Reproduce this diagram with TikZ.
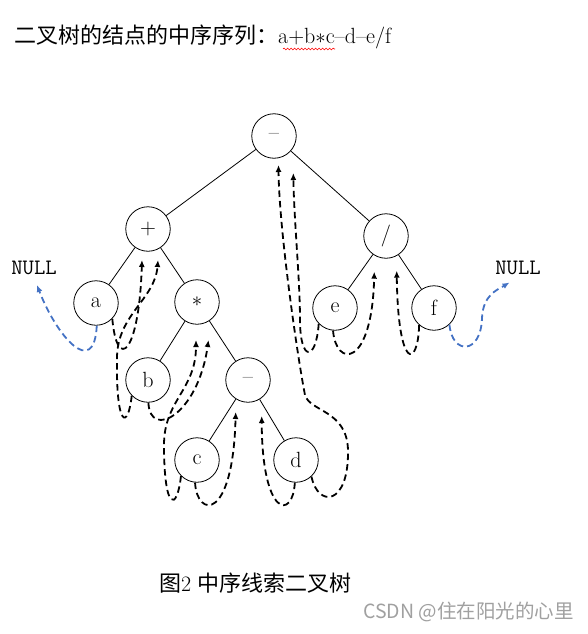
\documentclass[tikz,border=0pt]{standalone}
\usepackage{fontspec}
\usepackage{tikz}
\usetikzlibrary{arrows.meta,positioning,decorations.pathmorphing}
\newfontfamily\cjk{Noto Sans CJK SC}
\definecolor{nullblue}{HTML}{4472C4}
\definecolor{markgray}{HTML}{A0A0A0}

\begin{document}
\begin{tikzpicture}[x=1pt,y=-1pt,on grid,>={Latex[length=7pt,width=6pt]},
    vertex/.style={circle,draw,line width=0.8pt,minimum size=44.5pt,inner sep=0pt,
      font=\fontsize{22}{26}\selectfont},
    tree/.style={line width=0.8pt},
    thread/.style={->,line width=1.8pt,dash pattern=on 6.5pt off 4pt},
    nullthread/.style={thread,nullblue}]
  \useasboundingbox (0,0) rectangle (588,634);
  \node[anchor=west,inner sep=0pt,font=\fontsize{22}{26}\selectfont] (title) at (14,37)
    {{\cjk 二叉树的结点的中序序列：}a+b$\ast$c\textendash d\textendash e/f};
  \draw[red,line width=0.6pt,decorate,decoration={snake,amplitude=0.9pt,segment length=3.5pt}]
    (283,49) -- (335,49);

  \node[vertex] (root) at (274,136) {\textendash};
  \node[vertex] (plus) [below left=93pt and 126pt of root] {+};
  \node[vertex] (div) [below right=100pt and 112pt of root] {/};
  \node[vertex] (a) [below left=74pt and 52pt of plus] {a};
  \node[vertex] (mul) [below right=73pt and 49pt of plus] {$\ast$};
  \node[vertex] (e) [below left=72pt and 51pt of div] {e};
  \node[vertex] (f) [below right=72pt and 48pt of div] {f};
  \node[vertex] (b) [below left=78pt and 49pt of mul] {b};
  \node[vertex] (sub) [below right=78pt and 51pt of mul] {\textendash};
  \node[vertex] (c) [below left=80pt and 51pt of sub] {c};
  \node[vertex] (d) [below right=80pt and 48pt of sub] {d};
  \node[font=\ttfamily\fontsize{22}{26}\selectfont] (nullL) at (34,268) {NULL};
  \node[font=\ttfamily\fontsize{22}{26}\selectfont] (nullR) at (518,268) {NULL};

  \path[tree] (root) edge (plus) edge (div)
  (plus) edge (a) edge (mul)
  (mul) edge (b) edge (sub)
  (sub) edge (c) edge (d)
  (div) edge (e) edge (f);

  \draw[nullthread] (a.-88) .. controls (94,380) and (56,335) .. ([shift={(3,17)}]nullL.center);
  \draw[thread] (a.-44) .. controls (117,372) and (139,355) .. ([shift={(-6,31)}]plus.center);
  \draw[thread] (b.-136) .. controls (128,430) and (116,428) .. (117,360)
    .. controls (116,315) and (155,300) .. ([shift={(10,31)}]plus.center);
  \draw[thread] (b.-89) .. controls (150,440) and (198,415) .. ([shift={(11.5,38)}]mul.center);
  \draw[thread] (c.-135) .. controls (177,512) and (164,512) .. (164,445)
    .. controls (164,400) and (196,390) .. ([shift={(-1,38)}]mul.center);
  \draw[thread] (c.-95) .. controls (197,518) and (233,522) .. ([shift={(-12.3,32)}]sub.center);
  \draw[thread] (d.-93) .. controls (293,520) and (262,518) .. ([shift={(13.7,36)}]sub.center);
  \draw[thread] (d.-47) .. controls (318,508) and (349,506) .. (348,450)
    .. controls (347,410) and (310,412) .. (305,395)
    .. controls (298,360) and (279,230) .. ([shift={(4.5,29)}]root.center);
  \draw[thread] (e.-136) .. controls (316,362) and (300,362) .. (300,320)
    .. controls (300,280) and (294,220) .. ([shift={(19.3,37)}]root.center);
  \draw[thread] (e.-95) .. controls (336,368) and (372,368) .. ([shift={(-11.7,35.7)}]div.center);
  \draw[thread] (f.-131) .. controls (418,368) and (398,372) .. ([shift={(10.7,34.7)}]div.center);
  \draw[nullthread] (f.-47) .. controls (452,355) and (481,355) .. (482,318)
    .. controls (483,295) and (497,290) .. ([shift={(-8.5,14.5)}]nullR.center);

  \node[anchor=west,inner sep=0pt,font=\fontsize{22}{26}\selectfont] (caption) at (159,583)
    {{\cjk 图}2 {\cjk 中序线索二叉树}};
  \node[anchor=east,inner sep=0pt,text=markgray,font=\cjk\fontsize{19.5}{23}\selectfont] (mark)
    at (574,612) {CSDN @住在阳光的心里};
\end{tikzpicture}
\end{document}
